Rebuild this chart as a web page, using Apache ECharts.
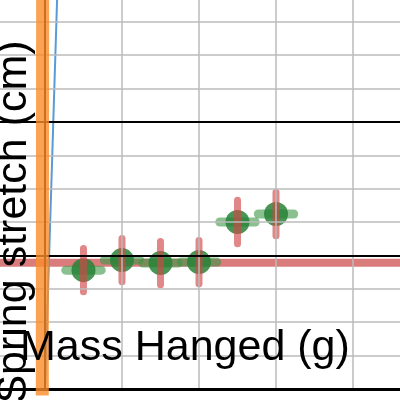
<!DOCTYPE html><html><head><meta charset="utf-8"><script src="https://cdn.jsdelivr.net/npm/echarts@6/dist/echarts.min.js"></script>
<style>html,body{margin:0;padding:0;background:#fff}#c{width:400px;height:400px}</style></head><body><div id="c"></div>
<script>
const masses=[5,10,15,20,25,30];
const stretch=[3.56,3.86,3.77,3.80,5.0,5.24];
const yErr=[0.65,0.65,0.65,0.65,0.65,0.65];
const xErr=[2.3,2.3,2.3,2.3,2.3,2.3];
const fitLevel=3.78;
const steepA=[[-0.3,12.6],[-0.35,-0.3]];
const steepB=[[1.7,12.6],[0,0]];
const xGrid=[10,20,30,40];
const yGrid=[1,2,3,5,6,7,9,10,11];
const yBold=[4,8];
const ch=echarts.init(document.getElementById('c'));
const pts=masses.map((m,i)=>[m,stretch[i],xErr[i],yErr[i]]);
const grey={color:'#bbb',width:1.5,type:'solid'};
const gridLines=[].concat(xGrid.map(v=>({xAxis:v,lineStyle:grey})),yGrid.map(v=>({yAxis:v,lineStyle:grey})));
ch.setOption({animation:false,
grid:{left:0,right:0,top:0,bottom:11,containLabel:false},
xAxis:{type:'value',min:-5.84,max:46.1,axisLabel:{show:false},axisTick:{show:false},axisLine:{show:false},splitLine:{show:false}},
yAxis:{type:'value',min:0,max:11.65,axisLabel:{show:false},axisTick:{show:false},axisLine:{show:false},splitLine:{show:false}},
series:[
{type:'line',data:[[-10,fitLevel],[50,fitLevel]],symbol:'none',lineStyle:{color:'rgba(205,80,80,0.75)',width:8},z:2,
 markLine:{silent:true,symbol:'none',label:{show:false},lineStyle:{color:'#000',width:2,type:'solid'},
  data:gridLines.concat(yBold.map(v=>({yAxis:v})),[{xAxis:0},{yAxis:0,lineStyle:{color:'#000',width:3,type:'solid'}}])}},
{type:'custom',z:3,data:pts,renderItem:function(p,api){
 const c=api.coord([api.value(0),api.value(1)]);
 const l=api.coord([api.value(0)-api.value(2),api.value(1)]);
 const r=api.coord([api.value(0)+api.value(2),api.value(1)]);
 const t=api.coord([api.value(0),api.value(1)+api.value(3)]);
 const b=api.coord([api.value(0),api.value(1)-api.value(3)]);
 return {type:'group',children:[
  {type:'line',shape:{x1:l[0],y1:l[1],x2:r[0],y2:r[1]},style:{stroke:'rgba(60,150,70,0.6)',lineWidth:9,lineCap:'round'}},
  {type:'circle',shape:{cx:c[0],cy:c[1],r:12},style:{fill:'rgba(40,130,55,0.85)'}},
  {type:'line',shape:{x1:t[0],y1:t[1],x2:b[0],y2:b[1]},style:{stroke:'rgba(210,70,70,0.65)',lineWidth:7,lineCap:'round'}}
 ]};}},
{type:'line',data:steepB,symbol:'none',lineStyle:{color:'#5b9bd5',width:2},z:4},
{type:'line',data:steepA,symbol:'none',lineStyle:{color:'rgba(250,140,40,0.8)',width:13},z:5}
],
graphic:[
{type:'text',left:20,top:327,z:10,style:{text:'Mass Hanged (g)',font:'43px "Liberation Sans", Arial',fill:'#000'}},
{type:'text',x:14,y:222,rotation:Math.PI/2,z:10,style:{text:'Spring stretch (cm)',font:'43px "Liberation Sans", Arial',fill:'#000',align:'center',verticalAlign:'middle'}}
]});
</script></body></html>
